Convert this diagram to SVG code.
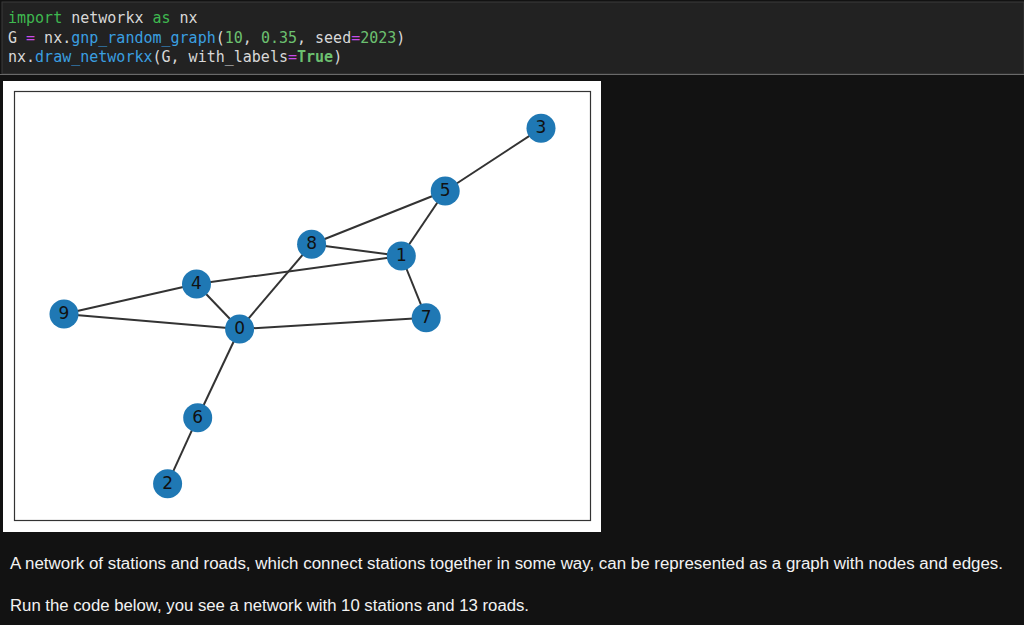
<svg xmlns="http://www.w3.org/2000/svg" width="1024" height="625" viewBox="0 0 1024 625">
<style>
.code{font-family:"DejaVu Sans Mono","Liberation Mono",monospace;font-size:15px;fill:#d8d8d8}
.kw{fill:#3fb950}
.op{fill:#c84ce8}
.fn{fill:#3a9fe0}
.num{fill:#6cc070}
.tr{fill:#6cc070;font-weight:bold}
.edge{stroke:#333;stroke-width:2;fill:none}
.node circle{fill:#1f78b4}
.node text{font-family:"DejaVu Sans",sans-serif;font-size:17px;fill:#111;text-anchor:middle;dominant-baseline:central}
.para{font-family:"Liberation Sans",Arial,sans-serif;font-size:16px;fill:#f2f2f2}
</style>
<rect width="1024" height="625" fill="#121212"/>
<rect x="2" y="2" width="1022" height="72" fill="#222222" stroke="#3a3a3a" stroke-width="1"/>
<line x1="0" y1="74.5" x2="1024" y2="74.5" stroke="#6a6a6a" stroke-width="1"/>
<text class="code" x="8" y="23"><tspan class="kw">import</tspan> networkx <tspan class="kw">as</tspan> nx</text>
<text class="code" x="8" y="43">G <tspan class="op">=</tspan> nx.<tspan class="fn">gnp_random_graph</tspan>(<tspan class="num">10</tspan>, <tspan class="num">0.35</tspan>, seed<tspan class="op">=</tspan><tspan class="num">2023</tspan>)</text>
<text class="code" x="8" y="62">nx.<tspan class="fn">draw_networkx</tspan>(G, with_labels<tspan class="op">=</tspan><tspan class="tr">True</tspan>)</text>
<rect x="3" y="81" width="598" height="451" fill="#ffffff"/>
<rect x="14.5" y="91.5" width="576" height="429" fill="none" stroke="#333" stroke-width="1.2"/>
<g id="edges">
<line class="edge" x1="239.6" y1="329" x2="196.5" y2="284"/>
<line class="edge" x1="239.6" y1="329" x2="64" y2="314"/>
<line class="edge" x1="239.6" y1="329" x2="311.6" y2="244.3"/>
<line class="edge" x1="239.6" y1="329" x2="426.2" y2="317.7"/>
<line class="edge" x1="239.6" y1="329" x2="197.7" y2="417.7"/>
<line class="edge" x1="401.3" y1="256" x2="196.5" y2="284"/>
<line class="edge" x1="401.3" y1="256" x2="311.6" y2="244.3"/>
<line class="edge" x1="401.3" y1="256" x2="445.2" y2="191"/>
<line class="edge" x1="401.3" y1="256" x2="426.2" y2="317.7"/>
<line class="edge" x1="197.7" y1="417.7" x2="167.6" y2="483.7"/>
<line class="edge" x1="541" y1="128.3" x2="445.2" y2="191"/>
<line class="edge" x1="196.5" y1="284" x2="64" y2="314"/>
<line class="edge" x1="445.2" y1="191" x2="311.6" y2="244.3"/>
</g>
<g id="node0" class="node"><circle cx="239.6" cy="329" r="14.5"/><text x="239.6" y="328">0</text></g>
<g id="node1" class="node"><circle cx="401.3" cy="256" r="14.5"/><text x="401.3" y="255">1</text></g>
<g id="node2" class="node"><circle cx="167.6" cy="483.7" r="14.5"/><text x="167.6" y="482.7">2</text></g>
<g id="node3" class="node"><circle cx="541" cy="128.3" r="14.5"/><text x="541" y="127.3">3</text></g>
<g id="node4" class="node"><circle cx="196.5" cy="284" r="14.5"/><text x="196.5" y="283">4</text></g>
<g id="node5" class="node"><circle cx="445.2" cy="191" r="14.5"/><text x="445.2" y="190">5</text></g>
<g id="node6" class="node"><circle cx="197.7" cy="417.7" r="14.5"/><text x="197.7" y="416.7">6</text></g>
<g id="node7" class="node"><circle cx="426.2" cy="317.7" r="14.5"/><text x="426.2" y="316.7">7</text></g>
<g id="node8" class="node"><circle cx="311.6" cy="244.3" r="14.5"/><text x="311.6" y="243.3">8</text></g>
<g id="node9" class="node"><circle cx="64" cy="314" r="14.5"/><text x="64" y="313">9</text></g>
<text class="para" x="10" y="569" textLength="993" lengthAdjust="spacingAndGlyphs">A network of stations and roads, which connect stations together in some way, can be represented as a graph with nodes and edges.</text>
<text class="para" x="10" y="611" textLength="519" lengthAdjust="spacingAndGlyphs">Run the code below, you see a network with 10 stations and 13 roads.</text>
</svg>
